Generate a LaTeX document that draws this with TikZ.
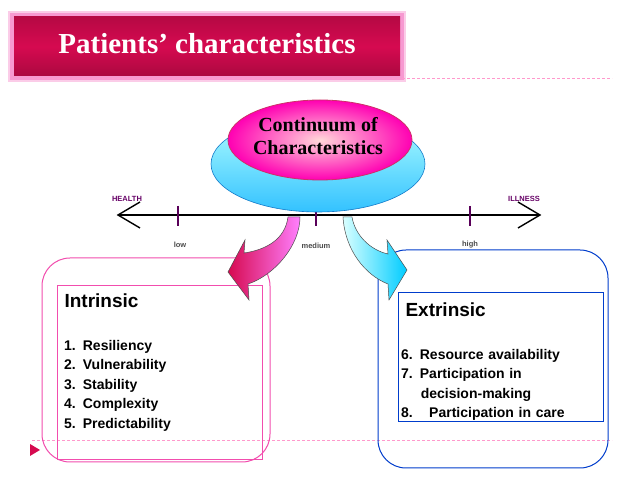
\documentclass[tikz,border=0pt]{standalone}
\usepackage{fontspec}
\setmainfont{Liberation Sans}
\newfontfamily\titlefont{Liberation Serif}
\definecolor{crimson}{RGB}{214,10,80}
\begin{document}
\begin{tikzpicture}[x=1pt,y=-1pt,
  pinkdash/.style={densely dashed,draw=pink!80!magenta,line width=0.8pt},
  tick/.style={draw=violet!70!black,line width=1.6pt},
  lbl/.style={font=\fontsize{7.5}{9}\selectfont\bfseries,text=black!70},
  item/.style={font=\fontsize{14}{19.5}\selectfont\bfseries,align=left,anchor=north west,inner sep=0pt}]
\useasboundingbox (0,0) rectangle (638,478);
\fill[white] (0,0) rectangle (638,478);
% title
\fill[magenta!20] (8,11) rectangle (406,82);
\fill[magenta!40] (10,13) rectangle (404,80);
\shade[top color=crimson!85!black,bottom color=crimson!80!black,middle color=crimson] (14,17) rectangle (400,76);
\node[text=white,font=\titlefont\fontsize{29}{32}\selectfont\bfseries] (title) at (207,44) {Patients’ characteristics};
\coordinate (d1a) at (32,78); \coordinate (d1b) at (612,78);
\draw[pinkdash] (d1a) -- (d1b);
\coordinate (d2a) at (32,440); \coordinate (d2b) at (612,440);
\draw[pinkdash] (d2a) -- (d2b);
\fill[crimson] (30,444) -- (40,450) -- (30,456) -- cycle;
% boxes
\draw[magenta!70,line width=1pt,rounded corners=28pt] (42,258) rectangle (270,462);
\draw[magenta!70,line width=1pt] (57,286) rectangle (262,460);
\draw[blue!70!cyan!80!black,line width=1pt,rounded corners=28pt] (378,250) rectangle (608,468);
\draw[blue!70!cyan!80!black,line width=1pt] (398,293) rectangle (603,422);
\node[font=\fontsize{19}{22}\selectfont\bfseries,anchor=west] (intr) at (61,301) {Intrinsic};
\node[item] (ilist) at (64,340) {1.\enspace Resiliency\\2.\enspace Vulnerability\\3.\enspace Stability\\4.\enspace Complexity\\5.\enspace Predictability};
\node[font=\fontsize{19}{22}\selectfont\bfseries,anchor=west] (extr) at (402,310) {Extrinsic};
\node[item,text width=205pt] (elist) at (401,349) {6.\enspace Resource availability\\7.\enspace Participation in\\\hspace*{1.4em}decision-making\\8.\enspace\, Participation in care};
% axis
\coordinate (ax1) at (118,215); \coordinate (ax2) at (540,215);
\draw[line width=1.2pt] (ax1) -- (ax2);
\draw[line width=1.4pt] (140,202) -- (ax1) -- (140,228);
\draw[line width=1.4pt] (518,202) -- (ax2) -- (518,228);
\draw[tick] (178,206) -- (178,226);
\draw[tick] (316,206) -- (316,226);
\draw[tick] (470,206) -- (470,226);
\node[lbl,text=violet!80!black] (health) at (127,199) {HEALTH};
\node[lbl,text=violet!80!black] (ill) at (524,199) {ILLNESS};
\node[lbl] (low) at (180,245) {low};
\node[lbl] (med) at (316,246) {medium};
\node[lbl] (high) at (470,245) {high};
% ellipses
\shade[top color=cyan!30,bottom color=cyan!70!blue!80] (318,164) ellipse [x radius=107,y radius=48];
\draw[cyan!60!blue,line width=0.6pt] (318,164) ellipse [x radius=107,y radius=48];
\shade[inner color=pink!60,outer color=magenta!70!red] (320,140) ellipse [x radius=92,y radius=40];
\draw[purple!80,line width=0.8pt] (320,140) ellipse [x radius=92,y radius=40];
\node[font=\titlefont\fontsize{20}{23}\selectfont\bfseries,align=center] (cont) at (318,136) {Continuum of\\Characteristics};
% curved arrows
\shade[left color=crimson,right color=magenta!50,draw=black!70,line width=0.5pt]
 (288,217) .. controls (285,240) and (265,250) .. (244,253) -- (245,240) -- (228,272) -- (249,300) -- (248,284) .. controls (275,275) and (300,245) .. (300,217) -- cycle;
\shade[left color=cyan!15,right color=cyan!80!blue,draw=black!70,line width=0.5pt]
 (343,217) .. controls (345,250) and (365,275) .. (388,284) -- (389,300) -- (407,270) -- (387,240) -- (388,254) .. controls (370,250) and (355,235) .. (352,217) -- cycle;
\end{tikzpicture}
\end{document}
